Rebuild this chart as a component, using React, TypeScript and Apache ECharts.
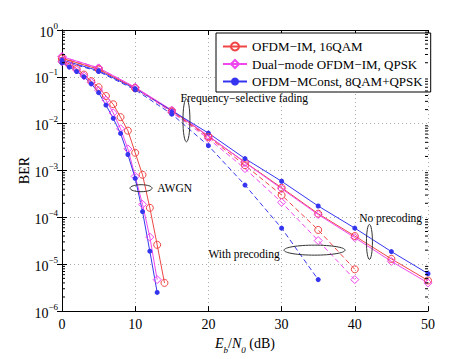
import React, { useEffect, useRef } from "react";
import * as echarts from "echarts";

// ---- data ----
const ebn0Awgn = [0, 1, 2, 3, 4, 5, 6, 7, 8, 9, 10, 11, 12, 13, 14];
const ebn0Fading = [0, 5, 10, 15, 20, 25, 30, 35, 40, 45, 50];

const awgnOfdmIm = [0.22, 0.19, 0.15, 0.112, 0.081, 0.06, 0.039, 0.026, 0.0138, 0.0071, 0.0024, 8.1e-4, 1.6e-4, 2.6e-5, 4.0e-6];
const awgnDualMode = [0.21, 0.175, 0.14, 0.105, 0.076, 0.052, 0.032, 0.017, 0.0078, 0.0029, 7.5e-4, 1.9e-4, 3.8e-5, 4.7e-6];
const awgnMConst = [0.2, 0.162, 0.13, 0.1, 0.071, 0.046, 0.025, 0.013, 0.0062, 0.0022, 6.8e-4, 1.33e-4, 1.9e-5, 2.5e-6];

const noPreOfdmIm = [0.25, 0.145, 0.058, 0.019, 0.0054, 0.0015, 4.3e-4, 1.2e-4, 4.0e-5, 1.3e-5, 4.5e-6];
const noPreDualMode = [0.27, 0.155, 0.06, 0.0195, 0.0055, 0.00148, 4.1e-4, 1.15e-4, 3.7e-5, 1.15e-5, 4.0e-6];
const noPreMConst = [0.23, 0.135, 0.056, 0.019, 0.0063, 0.0018, 5.9e-4, 1.75e-4, 5.9e-5, 1.86e-5, 6.3e-6];

const preOfdmIm = [0.25, 0.145, 0.057, 0.018, 0.0052, 1.3e-3, 3.0e-4, 5.4e-5, 7.8e-6];
const preDualMode = [0.27, 0.155, 0.059, 0.0175, 0.0048, 1.1e-3, 2.1e-4, 3.2e-5, 4.7e-6];
const preMConst = [0.22, 0.13, 0.053, 0.016, 3.4e-3, 4.9e-4, 5.9e-5, 4.7e-6];

const seriesNames = ["OFDM−IM, 16QAM", "Dual−mode OFDM−IM, QPSK", "OFDM−MConst, 8QAM+QPSK"];
const xTicks = [0, 10, 20, 30, 40, 50];
const yMin = 1e-6;
const yMax = 1;

const FONT = '"Liberation Serif", "DejaVu Serif", serif';
const RED = "#f04545";
const MAGENTA = "#f046f0";
const BLUE = "#3535f0";

const pairs = (xs: number[], ys: number[]) => ys.map((y, i) => [xs[i], y]);

function makeSeries(name: string, xs: number[], ys: number[], color: string, kind: number, dashed: boolean) {
  const symbol = kind === 0 ? "circle" : kind === 1 ? "diamond" : "circle";
  const symbolSize = kind === 0 ? 7 : kind === 1 ? 8 : 5;
  const itemStyle =
    kind === 2
      ? { color, borderColor: color, borderWidth: 0 }
      : { color: "rgba(255,255,255,0)", borderColor: color, borderWidth: 1 };
  return {
    type: "line",
    name,
    data: pairs(xs, ys),
    symbol,
    symbolSize,
    showAllSymbol: true,
    itemStyle,
    lineStyle: { color, width: 1, type: dashed ? [5, 3] : "solid" },
    emphasis: { disabled: true },
    z: 3,
  };
}

const minorValues: number[] = [];
for (let k = -6; k < 0; k++) for (let m = 2; m <= 9; m++) minorValues.push(m * Math.pow(10, k));

export default function App() {
  const ref = useRef<HTMLDivElement>(null);
  useEffect(() => {
    if (!ref.current) return;
    const chart = echarts.init(ref.current, undefined, { renderer: "svg" });
    const yLabel = (v: number) => {
      const e = Math.round(Math.log10(v));
      return `{b|10}{s|${e < 0 ? "−" : ""}${Math.abs(e)}}`;
    };
    const axisLineStyle = { lineStyle: { color: "#000", width: 1 } };
    const option: any = {
      animation: false,
      backgroundColor: "#fff",
      grid: { left: 62, right: 46, top: 30, bottom: 39, containLabel: false },
      legend: {
        data: seriesNames,
        orient: "vertical",
        left: 216,
        top: 33,
        padding: [7, 8, 4, 6],
        itemGap: 4.5,
        itemWidth: 24,
        itemHeight: 10,
        backgroundColor: "#fff",
        borderColor: "#000",
        borderWidth: 1,
        textStyle: { fontFamily: FONT, fontSize: 13, color: "#000" },
      },
      xAxis: [
        {
          type: "value",
          min: 0,
          max: 50,
          interval: 10,
          name: "{i|E}{sb|b}{n|/}{i|N}{sb|0}{n| (dB)}",
          nameLocation: "middle",
          nameGap: 22,
          nameTextStyle: {
            rich: {
              i: { fontFamily: FONT, fontSize: 14, fontStyle: "italic", color: "#000", lineHeight: 18, verticalAlign: "top" },
              n: { fontFamily: FONT, fontSize: 14, color: "#000", lineHeight: 18, verticalAlign: "top" },
              sb: { fontFamily: FONT, fontSize: 9, fontStyle: "italic", color: "#000", lineHeight: 9, verticalAlign: "bottom" },
            },
          },
          axisLine: axisLineStyle,
          axisTick: { inside: true, length: 5, lineStyle: { color: "#000" } },
          axisLabel: { fontFamily: FONT, fontSize: 14, color: "#000", margin: 6, formatter: (v: number) => (xTicks.includes(v) ? String(v) : "") },
          splitLine: { show: true, lineStyle: { color: "#aaa", type: [1, 3], width: 1 } },
        },
        {
          type: "value",
          position: "top",
          min: 0,
          max: 50,
          interval: 10,
          axisLine: axisLineStyle,
          axisTick: { inside: true, length: 5, lineStyle: { color: "#000" } },
          axisLabel: { show: false },
          splitLine: { show: false },
        },
      ],
      yAxis: [
        {
          type: "log",
          logBase: 10,
          min: yMin,
          max: yMax,
          splitNumber: 6,
          name: "BER",
          nameLocation: "middle",
          nameGap: 31,
          nameMoveOverlap: false,
          nameTextStyle: { fontFamily: FONT, fontSize: 14, color: "#000" },
          axisLine: { show: true, ...axisLineStyle },
          axisTick: { inside: true, length: 5, lineStyle: { color: "#000" } },
          axisLabel: {
            margin: 4,
            formatter: yLabel,
            rich: {
              b: { fontFamily: FONT, fontSize: 14, color: "#000", lineHeight: 18, verticalAlign: "bottom" },
              s: { fontFamily: FONT, fontSize: 9, color: "#000", lineHeight: 8, verticalAlign: "top" },
            },
          },
          splitLine: { show: true, lineStyle: { color: "#aaa", type: [1, 3], width: 1 } },
        },
        {
          type: "log",
          logBase: 10,
          min: yMin,
          max: yMax,
          splitNumber: 6,
          position: "right",
          axisLine: { show: true, ...axisLineStyle },
          axisTick: { inside: true, length: 5, lineStyle: { color: "#000" } },
          axisLabel: { show: false },
          splitLine: { show: false },
        },
      ],
      series: [
        makeSeries(seriesNames[0], ebn0Awgn, awgnOfdmIm, RED, 0, false),
        makeSeries(seriesNames[1], ebn0Awgn.slice(0, 14), awgnDualMode, MAGENTA, 1, false),
        makeSeries(seriesNames[2], ebn0Awgn.slice(0, 14), awgnMConst, BLUE, 2, false),
        makeSeries(seriesNames[0], ebn0Fading, noPreOfdmIm, RED, 0, false),
        makeSeries(seriesNames[1], ebn0Fading, noPreDualMode, MAGENTA, 1, false),
        makeSeries(seriesNames[2], ebn0Fading, noPreMConst, BLUE, 2, false),
        makeSeries(seriesNames[0], ebn0Fading, preOfdmIm, RED, 0, true),
        makeSeries(seriesNames[1], ebn0Fading, preDualMode, MAGENTA, 1, true),
        makeSeries(seriesNames[2], ebn0Fading, preMConst, BLUE, 2, true),
        {
          type: "custom",
          silent: true,
          clip: false,
          z: 5,
          data: minorValues.map((v) => [0, v]),
          renderItem: (_p: any, api: any) => {
            const v = api.value(1);
            const l = api.coord([0, v]);
            const r = api.coord([50, v]);
            return {
              type: "group",
              children: [
                { type: "line", shape: { x1: l[0], y1: l[1], x2: l[0] + 3, y2: l[1] }, style: { stroke: "#000", lineWidth: 1 } },
                { type: "line", shape: { x1: r[0] - 3, y1: r[1], x2: r[0], y2: r[1] }, style: { stroke: "#000", lineWidth: 1 } },
              ],
            };
          },
        },
      ],
    };
    chart.setOption(option);

    const px = (x: number, y: number) => chart.convertToPixel({ xAxisIndex: 0, yAxisIndex: 0 }, [x, y]) as number[];
    const textStyle = (text: string, p: number[]) => ({
      type: "text",
      x: p[0],
      y: p[1],
      style: { text, fontFamily: FONT, fontSize: 11.5, fill: "#000", align: "left", verticalAlign: "middle" },
      z: 10,
    });
    const ell = (p: number[], rx: number, ry: number) => ({
      type: "ellipse",
      shape: { cx: p[0], cy: p[1], rx, ry },
      style: { fill: "none", stroke: "#333", lineWidth: 1 },
      z: 10,
    });
    chart.setOption({
      graphic: [
        textStyle("Frequency−selective fading", px(16.2, 0.036)),
        ell(px(17.0, 0.0118), 3.5, 21.5),
        textStyle("AWGN", px(13.0, 4.2e-4)),
        ell(px(10.8, 4.2e-4), 11, 3.5),
        textStyle("With precoding", px(20.0, 1.65e-5)),
        ell(px(34.5, 2.0e-5), 30.5, 5),
        textStyle("No precoding", px(40.6, 9.5e-5)),
        ell(px(42.0, 3.0e-5), 3, 17.5),
      ],
    });
    return () => chart.dispose();
  }, []);
  return <div ref={ref} style={{ position: "fixed", left: 0, top: 0, width: 474, height: 359 }} />;
}
